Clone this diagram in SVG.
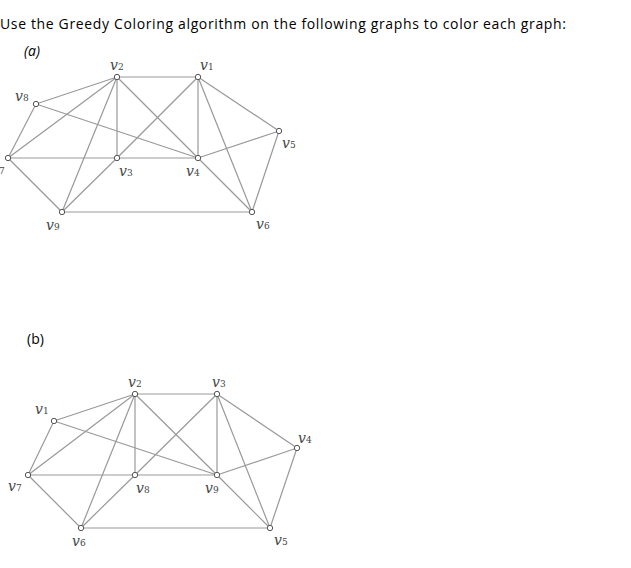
<svg xmlns="http://www.w3.org/2000/svg" width="631" height="568" viewBox="0 0 631 568">
<style>
.e line{stroke:#999;stroke-width:1.2}
.n circle{fill:#fff;stroke:#555;stroke-width:1}
.l{font-family:"DejaVu Serif","Liberation Serif",serif;font-style:italic;font-size:14px;fill:#444}
.l tspan{font-size:9px;font-style:normal}
.t{font-family:"Open Sans","Liberation Sans",sans-serif;font-size:14px;fill:#000}
</style>
<rect width="631" height="568" fill="#fff"/>
<text class="t" x="0" y="29" textLength="566" lengthAdjust="spacing">Use the Greedy Coloring algorithm on the following graphs to color each graph:</text>
<text class="t" x="24" y="56" font-style="italic">(a)</text>
<text class="t" x="27" y="344">(b)</text>
<g class="e" id="connectors">
<line x1="117" y1="77" x2="198" y2="77"/><line x1="117" y1="77" x2="36" y2="104"/><line x1="117" y1="77" x2="8" y2="158"/><line x1="117" y1="77" x2="62" y2="212"/><line x1="117" y1="77" x2="117" y2="158"/><line x1="117" y1="77" x2="198" y2="158"/><line x1="198" y1="77" x2="117" y2="158"/><line x1="198" y1="77" x2="198" y2="158"/><line x1="198" y1="77" x2="279" y2="131"/><line x1="198" y1="77" x2="252" y2="212"/><line x1="36" y1="104" x2="8" y2="158"/><line x1="36" y1="104" x2="198" y2="158"/><line x1="8" y1="158" x2="198" y2="158"/><line x1="8" y1="158" x2="62" y2="212"/><line x1="62" y1="212" x2="117" y2="158"/><line x1="198" y1="158" x2="279" y2="131"/><line x1="198" y1="158" x2="252" y2="212"/><line x1="279" y1="131" x2="252" y2="212"/><line x1="62" y1="212" x2="252" y2="212"/>
<line x1="135" y1="394" x2="217" y2="394"/><line x1="135" y1="394" x2="54" y2="421"/><line x1="135" y1="394" x2="28" y2="475"/><line x1="135" y1="394" x2="81" y2="528"/><line x1="135" y1="394" x2="135" y2="475"/><line x1="135" y1="394" x2="217" y2="475"/><line x1="217" y1="394" x2="135" y2="475"/><line x1="217" y1="394" x2="217" y2="475"/><line x1="217" y1="394" x2="297" y2="448"/><line x1="217" y1="394" x2="270" y2="528"/><line x1="54" y1="421" x2="28" y2="475"/><line x1="54" y1="421" x2="217" y2="475"/><line x1="28" y1="475" x2="217" y2="475"/><line x1="28" y1="475" x2="81" y2="528"/><line x1="81" y1="528" x2="135" y2="475"/><line x1="217" y1="475" x2="297" y2="448"/><line x1="217" y1="475" x2="270" y2="528"/><line x1="297" y1="448" x2="270" y2="528"/><line x1="81" y1="528" x2="270" y2="528"/>
</g>
<g class="n" id="a-v1"><circle cx="198" cy="77" r="2.7"/><text class="l" x="200" y="70">v<tspan>1</tspan></text></g>
<g class="n" id="a-v2"><circle cx="117" cy="77" r="2.7"/><text class="l" x="110" y="70">v<tspan>2</tspan></text></g>
<g class="n" id="a-v3"><circle cx="117" cy="158" r="2.7"/><text class="l" x="119" y="176">v<tspan>3</tspan></text></g>
<g class="n" id="a-v4"><circle cx="198" cy="158" r="2.7"/><text class="l" x="186" y="176">v<tspan>4</tspan></text></g>
<g class="n" id="a-v5"><circle cx="279" cy="131" r="2.7"/><text class="l" x="282" y="148">v<tspan>5</tspan></text></g>
<g class="n" id="a-v6"><circle cx="252" cy="212" r="2.7"/><text class="l" x="256" y="229">v<tspan>6</tspan></text></g>
<g class="n" id="a-v7"><circle cx="8" cy="158" r="2.7"/><text class="l" x="-9" y="174">v<tspan>7</tspan></text></g>
<g class="n" id="a-v8"><circle cx="36" cy="104" r="2.7"/><text class="l" x="15" y="101">v<tspan>8</tspan></text></g>
<g class="n" id="a-v9"><circle cx="62" cy="212" r="2.7"/><text class="l" x="46" y="230">v<tspan>9</tspan></text></g>
<g class="n" id="b-v1"><circle cx="54" cy="421" r="2.7"/><text class="l" x="35" y="414">v<tspan>1</tspan></text></g>
<g class="n" id="b-v2"><circle cx="135" cy="394" r="2.7"/><text class="l" x="128" y="387">v<tspan>2</tspan></text></g>
<g class="n" id="b-v3"><circle cx="217" cy="394" r="2.7"/><text class="l" x="212" y="387">v<tspan>3</tspan></text></g>
<g class="n" id="b-v4"><circle cx="297" cy="448" r="2.7"/><text class="l" x="298" y="443">v<tspan>4</tspan></text></g>
<g class="n" id="b-v5"><circle cx="270" cy="528" r="2.7"/><text class="l" x="274" y="545">v<tspan>5</tspan></text></g>
<g class="n" id="b-v6"><circle cx="81" cy="528" r="2.7"/><text class="l" x="72" y="546">v<tspan>6</tspan></text></g>
<g class="n" id="b-v7"><circle cx="28" cy="475" r="2.7"/><text class="l" x="8" y="491">v<tspan>7</tspan></text></g>
<g class="n" id="b-v8"><circle cx="135" cy="475" r="2.7"/><text class="l" x="136" y="493">v<tspan>8</tspan></text></g>
<g class="n" id="b-v9"><circle cx="217" cy="475" r="2.7"/><text class="l" x="205" y="493">v<tspan>9</tspan></text></g>
</svg>
